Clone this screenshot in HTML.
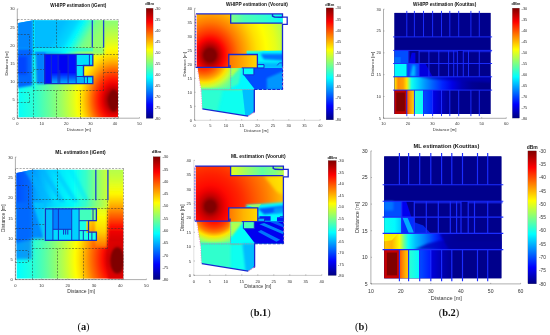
<!DOCTYPE html>
<html><head><meta charset="utf-8"><title>figure</title>
<style>html,body{margin:0;padding:0;background:#fff}svg{display:block;font-family:"Liberation Sans",sans-serif}</style>
</head><body>
<svg width="550" height="335" viewBox="0 0 550 335">
<defs>
<clipPath id="cp1"><polygon points="18.3,117.5 118,117.5 118,20.2 33.2,20.2 18.3,23.1"/></clipPath>
<radialGradient id="rg2" gradientUnits="userSpaceOnUse" cx="0" cy="0" r="1" gradientTransform="translate(113.3 100) scale(146.6 207.7)"><stop offset="0%" stop-color="#800000"/><stop offset="2.5%" stop-color="#800000"/><stop offset="5%" stop-color="#b60000"/><stop offset="7.5%" stop-color="#e90000"/><stop offset="10%" stop-color="#ff1600"/><stop offset="12.5%" stop-color="#ff3f00"/><stop offset="15%" stop-color="#ff6d00"/><stop offset="17.5%" stop-color="#ff9e00"/><stop offset="20%" stop-color="#ffc900"/><stop offset="22.5%" stop-color="#ffee00"/><stop offset="25%" stop-color="#f7ff08"/><stop offset="27.5%" stop-color="#deff21"/><stop offset="30%" stop-color="#c9ff36"/><stop offset="32.5%" stop-color="#b5ff4a"/><stop offset="35%" stop-color="#a1ff5e"/><stop offset="37.5%" stop-color="#8fff70"/><stop offset="40%" stop-color="#80ff80"/><stop offset="42.5%" stop-color="#70ff8f"/><stop offset="45%" stop-color="#61ff9e"/><stop offset="47.5%" stop-color="#52ffad"/><stop offset="50%" stop-color="#42ffbd"/><stop offset="52.5%" stop-color="#33ffcc"/><stop offset="55%" stop-color="#28ffd7"/><stop offset="57.5%" stop-color="#20ffdf"/><stop offset="60%" stop-color="#17ffe8"/><stop offset="62.5%" stop-color="#0efff1"/><stop offset="65%" stop-color="#06fff9"/><stop offset="67.5%" stop-color="#00feff"/><stop offset="70%" stop-color="#00faff"/><stop offset="72.5%" stop-color="#00f7ff"/><stop offset="75%" stop-color="#00f4ff"/><stop offset="77.5%" stop-color="#00f0ff"/><stop offset="80%" stop-color="#00edff"/><stop offset="82.5%" stop-color="#00e9ff"/><stop offset="85%" stop-color="#00e6ff"/><stop offset="87.5%" stop-color="#00e2ff"/><stop offset="90%" stop-color="#00dfff"/><stop offset="92.5%" stop-color="#00dbff"/><stop offset="95%" stop-color="#00d8ff"/><stop offset="97.5%" stop-color="#00d5ff"/><stop offset="100%" stop-color="#00d1ff"/></radialGradient>
<filter id="b0_9" x="-50%" y="-50%" width="200%" height="200%"><feGaussianBlur stdDeviation="0.9"/></filter>
<linearGradient id="lg3" gradientUnits="userSpaceOnUse" x1="68.1" y1="13.7" x2="100.7" y2="33.1"><stop offset="0%" stop-color="#00bdff"/><stop offset="30%" stop-color="#00d6ff"/><stop offset="45%" stop-color="#00faff"/><stop offset="60%" stop-color="#38ffc7"/><stop offset="75%" stop-color="#75ff8a"/><stop offset="100%" stop-color="#94ff6b"/></linearGradient>
<filter id="b1_2" x="-50%" y="-50%" width="200%" height="200%"><feGaussianBlur stdDeviation="1.2"/></filter>
<filter id="b1_6" x="-50%" y="-50%" width="200%" height="200%"><feGaussianBlur stdDeviation="1.6"/></filter>
<filter id="b1_3" x="-50%" y="-50%" width="200%" height="200%"><feGaussianBlur stdDeviation="1.3"/></filter>
<filter id="b1_5" x="-50%" y="-50%" width="200%" height="200%"><feGaussianBlur stdDeviation="1.5"/></filter>
<filter id="b0_6" x="-50%" y="-50%" width="200%" height="200%"><feGaussianBlur stdDeviation="0.6"/></filter>
<filter id="b0_5" x="-50%" y="-50%" width="200%" height="200%"><feGaussianBlur stdDeviation="0.5"/></filter>
<linearGradient id="lg4" gradientUnits="userSpaceOnUse" x1="17.3" y1="72.7" x2="17.3" y2="83.6"><stop offset="0%" stop-color="#000fff"/><stop offset="100%" stop-color="#00b2ff"/></linearGradient>
<filter id="b0_3" x="-50%" y="-50%" width="200%" height="200%"><feGaussianBlur stdDeviation="0.3"/></filter>
<clipPath id="cp5"><polygon points="16.4,278.8 123.3,278.8 123.3,169.7 32.4,169.7 16.4,172.9"/></clipPath>
<radialGradient id="rg6" gradientUnits="userSpaceOnUse" cx="0" cy="0" r="1" gradientTransform="translate(118.1 259.2) scale(157.2 245.2)"><stop offset="0%" stop-color="#800000"/><stop offset="2.5%" stop-color="#800000"/><stop offset="5%" stop-color="#a80000"/><stop offset="7.5%" stop-color="#dd0000"/><stop offset="10%" stop-color="#ff0f00"/><stop offset="12.5%" stop-color="#ff3100"/><stop offset="15%" stop-color="#ff5300"/><stop offset="17.5%" stop-color="#ff7500"/><stop offset="20%" stop-color="#ff9b00"/><stop offset="22.5%" stop-color="#ffc000"/><stop offset="25%" stop-color="#ffe500"/><stop offset="27.5%" stop-color="#ffff00"/><stop offset="30%" stop-color="#e6ff19"/><stop offset="32.5%" stop-color="#cdff32"/><stop offset="35%" stop-color="#b6ff49"/><stop offset="37.5%" stop-color="#a2ff5e"/><stop offset="40%" stop-color="#8dff72"/><stop offset="42.5%" stop-color="#79ff86"/><stop offset="45%" stop-color="#64ff9b"/><stop offset="47.5%" stop-color="#52ffad"/><stop offset="50%" stop-color="#42ffbd"/><stop offset="52.5%" stop-color="#33ffcc"/><stop offset="55%" stop-color="#24ffdb"/><stop offset="57.5%" stop-color="#19ffe6"/><stop offset="60%" stop-color="#0ffff0"/><stop offset="62.5%" stop-color="#05fffa"/><stop offset="65%" stop-color="#00faff"/><stop offset="67.5%" stop-color="#00f7ff"/><stop offset="70%" stop-color="#00f4ff"/><stop offset="72.5%" stop-color="#00f1ff"/><stop offset="75%" stop-color="#00eeff"/><stop offset="77.5%" stop-color="#00ebff"/><stop offset="80%" stop-color="#00e8ff"/><stop offset="82.5%" stop-color="#00e5ff"/><stop offset="85%" stop-color="#00e3ff"/><stop offset="87.5%" stop-color="#00e0ff"/><stop offset="90%" stop-color="#00ddff"/><stop offset="92.5%" stop-color="#00daff"/><stop offset="95%" stop-color="#00d7ff"/><stop offset="97.5%" stop-color="#00d4ff"/><stop offset="100%" stop-color="#00d1ff"/></radialGradient>
<linearGradient id="lg7" gradientUnits="userSpaceOnUse" x1="15.4" y1="242.8" x2="15.4" y2="169.3"><stop offset="0%" stop-color="#d10000"/><stop offset="11%" stop-color="#e50000"/><stop offset="22%" stop-color="#ff0f00"/><stop offset="33%" stop-color="#ff4c00"/><stop offset="44%" stop-color="#ff8a00"/><stop offset="56%" stop-color="#ffc700"/><stop offset="67%" stop-color="#fffa00"/><stop offset="78%" stop-color="#e5ff1a"/><stop offset="89%" stop-color="#c7ff38"/><stop offset="100%" stop-color="#b3ff4c"/></linearGradient>
<filter id="b1_0" x="-50%" y="-50%" width="200%" height="200%"><feGaussianBlur stdDeviation="1.0"/></filter>
<linearGradient id="lg8" gradientUnits="userSpaceOnUse" x1="15.4" y1="199.9" x2="15.4" y2="248.9"><stop offset="0%" stop-color="#c7ff38"/><stop offset="35%" stop-color="#faff05"/><stop offset="65%" stop-color="#ffd100"/><stop offset="85%" stop-color="#ff9400"/><stop offset="100%" stop-color="#ff6100"/></linearGradient>
<filter id="b1_1" x="-50%" y="-50%" width="200%" height="200%"><feGaussianBlur stdDeviation="1.1"/></filter>
<linearGradient id="lg9" gradientUnits="userSpaceOnUse" x1="15.4" y1="279.6" x2="109.7" y2="279.6"><stop offset="0%" stop-color="#004dff"/><stop offset="20%" stop-color="#009eff"/><stop offset="42%" stop-color="#00e0ff"/><stop offset="62%" stop-color="#05fffa"/><stop offset="75%" stop-color="#38ffc7"/><stop offset="85%" stop-color="#80ff80"/><stop offset="95%" stop-color="#bdff42"/><stop offset="100%" stop-color="#d1ff2e"/></linearGradient>
<filter id="b1_8" x="-50%" y="-50%" width="200%" height="200%"><feGaussianBlur stdDeviation="1.8"/></filter>
<filter id="b1_4" x="-50%" y="-50%" width="200%" height="200%"><feGaussianBlur stdDeviation="1.4"/></filter>
<filter id="b0_8" x="-50%" y="-50%" width="200%" height="200%"><feGaussianBlur stdDeviation="0.8"/></filter>
<filter id="b0_4" x="-50%" y="-50%" width="200%" height="200%"><feGaussianBlur stdDeviation="0.4"/></filter>
<clipPath id="cp10"><polygon points="196.5,13.9 282.8,13.9 282.8,89.5 254.3,89.5 254.3,111.9 248,116.1 202.4,108.8 201.5,90.9 199.6,80 197.7,67.4 196.5,67.4"/></clipPath>
<radialGradient id="rg11" gradientUnits="userSpaceOnUse" cx="0" cy="0" r="1" gradientTransform="translate(210 55.1) scale(188.4 218.4)"><stop offset="0%" stop-color="#800000"/><stop offset="2.5%" stop-color="#800000"/><stop offset="5%" stop-color="#c30000"/><stop offset="7.5%" stop-color="#ff0200"/><stop offset="10%" stop-color="#ff2f00"/><stop offset="12.5%" stop-color="#ff5400"/><stop offset="15%" stop-color="#ff7800"/><stop offset="17.5%" stop-color="#ff9500"/><stop offset="20%" stop-color="#ffb000"/><stop offset="22.5%" stop-color="#ffcb00"/><stop offset="25%" stop-color="#ffe100"/><stop offset="27.5%" stop-color="#fff000"/><stop offset="30%" stop-color="#ffff00"/><stop offset="32.5%" stop-color="#f2ff0d"/><stop offset="35%" stop-color="#e5ff1a"/><stop offset="37.5%" stop-color="#cdff32"/><stop offset="40%" stop-color="#b4ff4b"/><stop offset="42.5%" stop-color="#9aff65"/><stop offset="45%" stop-color="#80ff80"/><stop offset="47.5%" stop-color="#7bff84"/><stop offset="50%" stop-color="#76ff89"/><stop offset="52.5%" stop-color="#72ff8d"/><stop offset="55%" stop-color="#6dff92"/><stop offset="57.5%" stop-color="#68ff97"/><stop offset="60%" stop-color="#64ff9b"/><stop offset="62.5%" stop-color="#5fffa0"/><stop offset="65%" stop-color="#5affa5"/><stop offset="67.5%" stop-color="#56ffa9"/><stop offset="70%" stop-color="#51ffae"/><stop offset="72.5%" stop-color="#4dffb2"/><stop offset="75%" stop-color="#48ffb7"/><stop offset="77.5%" stop-color="#43ffbc"/><stop offset="80%" stop-color="#3fffc0"/><stop offset="82.5%" stop-color="#3affc5"/><stop offset="85%" stop-color="#35ffca"/><stop offset="87.5%" stop-color="#31ffce"/><stop offset="90%" stop-color="#2cffd3"/><stop offset="92.5%" stop-color="#27ffd8"/><stop offset="95%" stop-color="#23ffdc"/><stop offset="97.5%" stop-color="#1effe1"/><stop offset="100%" stop-color="#1affe5"/></radialGradient>
<clipPath id="cp12"><polygon points="194.6,67.4 230.4,67.4 230.4,89.5 194.6,89.5"/></clipPath>
<radialGradient id="rg13" gradientUnits="userSpaceOnUse" cx="0" cy="0" r="1" gradientTransform="translate(204 61.5) scale(188.4 168)"><stop offset="0%" stop-color="#ff0f00"/><stop offset="2.5%" stop-color="#ff2400"/><stop offset="5%" stop-color="#ff3800"/><stop offset="7.5%" stop-color="#ff6600"/><stop offset="10%" stop-color="#ff9e00"/><stop offset="12.5%" stop-color="#ffe200"/><stop offset="15%" stop-color="#c7ff38"/><stop offset="17.5%" stop-color="#80ff80"/><stop offset="20%" stop-color="#57ffa8"/><stop offset="22.5%" stop-color="#4fffb0"/><stop offset="25%" stop-color="#47ffb8"/><stop offset="27.5%" stop-color="#40ffbf"/><stop offset="30%" stop-color="#38ffc7"/><stop offset="32.5%" stop-color="#30ffcf"/><stop offset="35%" stop-color="#2effd1"/><stop offset="37.5%" stop-color="#2effd1"/><stop offset="40%" stop-color="#2effd1"/><stop offset="42.5%" stop-color="#2effd1"/><stop offset="45%" stop-color="#2effd1"/><stop offset="47.5%" stop-color="#2effd1"/><stop offset="50%" stop-color="#2effd1"/><stop offset="52.5%" stop-color="#2effd1"/><stop offset="55%" stop-color="#2effd1"/><stop offset="57.5%" stop-color="#2effd1"/><stop offset="60%" stop-color="#2effd1"/><stop offset="62.5%" stop-color="#2effd1"/><stop offset="65%" stop-color="#2effd1"/><stop offset="67.5%" stop-color="#2effd1"/><stop offset="70%" stop-color="#2effd1"/><stop offset="72.5%" stop-color="#2effd1"/><stop offset="75%" stop-color="#2effd1"/><stop offset="77.5%" stop-color="#2effd1"/><stop offset="80%" stop-color="#2effd1"/><stop offset="82.5%" stop-color="#2effd1"/><stop offset="85%" stop-color="#2effd1"/><stop offset="87.5%" stop-color="#2effd1"/><stop offset="90%" stop-color="#2effd1"/><stop offset="92.5%" stop-color="#2effd1"/><stop offset="95%" stop-color="#2effd1"/><stop offset="97.5%" stop-color="#2effd1"/><stop offset="100%" stop-color="#2effd1"/></radialGradient>
<linearGradient id="lg14" gradientUnits="userSpaceOnUse" x1="230.7" y1="120.3" x2="282.5" y2="120.3"><stop offset="0%" stop-color="#80ff80"/><stop offset="25%" stop-color="#4dffb2"/><stop offset="70%" stop-color="#2effd1"/><stop offset="100%" stop-color="#05fffa"/></linearGradient>
<filter id="b0_7" x="-50%" y="-50%" width="200%" height="200%"><feGaussianBlur stdDeviation="0.7"/></filter>
<linearGradient id="lg15" gradientUnits="userSpaceOnUse" x1="228.8" y1="120.3" x2="257.4" y2="120.3"><stop offset="0%" stop-color="#ff7500"/><stop offset="50%" stop-color="#ffa800"/><stop offset="100%" stop-color="#ffdb00"/></linearGradient>
<clipPath id="cp16"><polygon points="195.7,166.1 283.7,166.1 283.7,243.8 254.6,243.8 254.6,266.8 248.2,271.1 201.8,263.6 200.8,245.2 198.9,234 197,221.1 195.7,221.1"/></clipPath>
<radialGradient id="rg17" gradientUnits="userSpaceOnUse" cx="0" cy="0" r="1" gradientTransform="translate(210.3 206.4) scale(192 215.6)"><stop offset="0%" stop-color="#800000"/><stop offset="2.5%" stop-color="#890000"/><stop offset="5%" stop-color="#c60000"/><stop offset="7.5%" stop-color="#ee0000"/><stop offset="10%" stop-color="#ff0a00"/><stop offset="12.5%" stop-color="#ff1600"/><stop offset="15%" stop-color="#ff2100"/><stop offset="17.5%" stop-color="#ff2f00"/><stop offset="20%" stop-color="#ff4000"/><stop offset="22.5%" stop-color="#ff5100"/><stop offset="25%" stop-color="#ff6100"/><stop offset="27.5%" stop-color="#ff7000"/><stop offset="30%" stop-color="#ff8000"/><stop offset="32.5%" stop-color="#ff9300"/><stop offset="35%" stop-color="#ffa600"/><stop offset="37.5%" stop-color="#ffb900"/><stop offset="40%" stop-color="#ffce00"/><stop offset="42.5%" stop-color="#ffe200"/><stop offset="45%" stop-color="#fff700"/><stop offset="47.5%" stop-color="#f8ff07"/><stop offset="50%" stop-color="#f2ff0d"/><stop offset="52.5%" stop-color="#edff12"/><stop offset="55%" stop-color="#e7ff18"/><stop offset="57.5%" stop-color="#e1ff1e"/><stop offset="60%" stop-color="#dbff24"/><stop offset="62.5%" stop-color="#d6ff29"/><stop offset="65%" stop-color="#d0ff2f"/><stop offset="67.5%" stop-color="#caff35"/><stop offset="70%" stop-color="#c4ff3b"/><stop offset="72.5%" stop-color="#bfff40"/><stop offset="75%" stop-color="#b9ff46"/><stop offset="77.5%" stop-color="#b3ff4c"/><stop offset="80%" stop-color="#adff52"/><stop offset="82.5%" stop-color="#a8ff57"/><stop offset="85%" stop-color="#a2ff5d"/><stop offset="87.5%" stop-color="#9cff63"/><stop offset="90%" stop-color="#96ff69"/><stop offset="92.5%" stop-color="#91ff6e"/><stop offset="95%" stop-color="#8bff74"/><stop offset="97.5%" stop-color="#85ff7a"/><stop offset="100%" stop-color="#80ff80"/></radialGradient>
<clipPath id="cp18"><polygon points="193.8,221.1 230.3,221.1 230.3,243.8 193.8,243.8"/></clipPath>
<radialGradient id="rg19" gradientUnits="userSpaceOnUse" cx="0" cy="0" r="1" gradientTransform="translate(214 215) scale(192 172.5)"><stop offset="0%" stop-color="#e60000"/><stop offset="2.5%" stop-color="#fd0000"/><stop offset="5%" stop-color="#ff1900"/><stop offset="7.5%" stop-color="#ff4200"/><stop offset="10%" stop-color="#ff8000"/><stop offset="12.5%" stop-color="#ffe500"/><stop offset="15%" stop-color="#b3ff4c"/><stop offset="17.5%" stop-color="#6bff94"/><stop offset="20%" stop-color="#52ffad"/><stop offset="22.5%" stop-color="#4bffb4"/><stop offset="25%" stop-color="#45ffba"/><stop offset="27.5%" stop-color="#3effc1"/><stop offset="30%" stop-color="#37ffc8"/><stop offset="32.5%" stop-color="#30ffcf"/><stop offset="35%" stop-color="#2effd1"/><stop offset="37.5%" stop-color="#2effd1"/><stop offset="40%" stop-color="#2effd1"/><stop offset="42.5%" stop-color="#2effd1"/><stop offset="45%" stop-color="#2effd1"/><stop offset="47.5%" stop-color="#2effd1"/><stop offset="50%" stop-color="#2effd1"/><stop offset="52.5%" stop-color="#2effd1"/><stop offset="55%" stop-color="#2effd1"/><stop offset="57.5%" stop-color="#2effd1"/><stop offset="60%" stop-color="#2effd1"/><stop offset="62.5%" stop-color="#2effd1"/><stop offset="65%" stop-color="#2effd1"/><stop offset="67.5%" stop-color="#2effd1"/><stop offset="70%" stop-color="#2effd1"/><stop offset="72.5%" stop-color="#2effd1"/><stop offset="75%" stop-color="#2effd1"/><stop offset="77.5%" stop-color="#2effd1"/><stop offset="80%" stop-color="#2effd1"/><stop offset="82.5%" stop-color="#2effd1"/><stop offset="85%" stop-color="#2effd1"/><stop offset="87.5%" stop-color="#2effd1"/><stop offset="90%" stop-color="#2effd1"/><stop offset="92.5%" stop-color="#2effd1"/><stop offset="95%" stop-color="#2effd1"/><stop offset="97.5%" stop-color="#2effd1"/><stop offset="100%" stop-color="#2effd1"/></radialGradient>
<linearGradient id="lg20" gradientUnits="userSpaceOnUse" x1="230.6" y1="275.4" x2="283.4" y2="275.4"><stop offset="0%" stop-color="#e5ff1a"/><stop offset="30%" stop-color="#9eff61"/><stop offset="60%" stop-color="#61ff9e"/><stop offset="85%" stop-color="#80ff80"/><stop offset="100%" stop-color="#b3ff4c"/></linearGradient>
<linearGradient id="lg21" gradientUnits="userSpaceOnUse" x1="228.7" y1="275.4" x2="257.8" y2="275.4"><stop offset="0%" stop-color="#ff7500"/><stop offset="50%" stop-color="#ffb300"/><stop offset="100%" stop-color="#ffdb00"/></linearGradient>
<clipPath id="cp22"><polygon points="394.3,113.9 490.7,113.9 490.7,12.7 394.3,12.7"/></clipPath>
<linearGradient id="lg23" gradientUnits="userSpaceOnUse" x1="394.3" y1="140.1" x2="481.7" y2="140.1"><stop offset="0%" stop-color="#fff000"/><stop offset="4.5%" stop-color="#ff8a00"/><stop offset="10.1%" stop-color="#ff9e00"/><stop offset="14.3%" stop-color="#ffe500"/><stop offset="17.1%" stop-color="#80ff80"/><stop offset="19.9%" stop-color="#0ffff0"/><stop offset="27%" stop-color="#00d1ff"/><stop offset="35.4%" stop-color="#0094ff"/><stop offset="43.8%" stop-color="#0061ff"/><stop offset="55.1%" stop-color="#0024ff"/><stop offset="66.3%" stop-color="#0000e6"/><stop offset="77.5%" stop-color="#0000b2"/><stop offset="88.8%" stop-color="#000094"/><stop offset="100%" stop-color="#00008a"/></linearGradient>
<linearGradient id="lg24" gradientUnits="userSpaceOnUse" x1="406.8" y1="140.1" x2="414.2" y2="140.1"><stop offset="0%" stop-color="#ff4c00"/><stop offset="50%" stop-color="#ff9e00"/><stop offset="100%" stop-color="#ffdb00"/></linearGradient>
<linearGradient id="lg25" gradientUnits="userSpaceOnUse" x1="414.2" y1="140.1" x2="423.5" y2="140.1"><stop offset="0%" stop-color="#2effd1"/><stop offset="100%" stop-color="#00faff"/></linearGradient>
<linearGradient id="lg26" gradientUnits="userSpaceOnUse" x1="423.5" y1="140.1" x2="449.8" y2="140.1"><stop offset="0%" stop-color="#004dff"/><stop offset="34%" stop-color="#0024ff"/><stop offset="36%" stop-color="#0000e6"/><stop offset="68%" stop-color="#0000bd"/><stop offset="100%" stop-color="#000094"/></linearGradient>
<clipPath id="cp27"><polygon points="384.1,278.6 501.6,278.6 501.6,156.2 384.1,156.2"/></clipPath>
<linearGradient id="lg28" gradientUnits="userSpaceOnUse" x1="384.1" y1="310.5" x2="460.8" y2="310.5"><stop offset="0%" stop-color="#ffc700"/><stop offset="10%" stop-color="#ffb300"/><stop offset="20%" stop-color="#faff05"/><stop offset="26%" stop-color="#6bff94"/><stop offset="31.6%" stop-color="#05fffa"/><stop offset="41%" stop-color="#00bdff"/><stop offset="53%" stop-color="#0080ff"/><stop offset="65%" stop-color="#0038ff"/><stop offset="77%" stop-color="#0000e6"/><stop offset="92%" stop-color="#0000a8"/><stop offset="100%" stop-color="#000094"/></linearGradient>
<linearGradient id="lg29" gradientUnits="userSpaceOnUse" x1="399.4" y1="310.5" x2="408.6" y2="310.5"><stop offset="0%" stop-color="#ff4c00"/><stop offset="30%" stop-color="#ff8000"/><stop offset="70%" stop-color="#ffb300"/><stop offset="100%" stop-color="#ffc700"/></linearGradient>
<linearGradient id="lg30" gradientUnits="userSpaceOnUse" x1="408.6" y1="310.5" x2="419.7" y2="310.5"><stop offset="0%" stop-color="#2effd1"/><stop offset="100%" stop-color="#00faff"/></linearGradient>
<linearGradient id="lg31" gradientUnits="userSpaceOnUse" x1="419.7" y1="310.5" x2="451.8" y2="310.5"><stop offset="0%" stop-color="#004dff"/><stop offset="34%" stop-color="#001aff"/><stop offset="36%" stop-color="#0000db"/><stop offset="68%" stop-color="#0000b2"/><stop offset="100%" stop-color="#000094"/></linearGradient>
<linearGradient id="lg32" gradientUnits="userSpaceOnUse" x1="384.1" y1="310.5" x2="401.7" y2="310.5"><stop offset="0%" stop-color="#0ffff0"/><stop offset="60%" stop-color="#00faff"/><stop offset="100%" stop-color="#00c7ff"/></linearGradient>
<linearGradient id="cb33" x1="0" y1="0" x2="0" y2="1"><stop offset="0%" stop-color="#800000"/><stop offset="6.2%" stop-color="#bf0000"/><stop offset="12.5%" stop-color="#ff0000"/><stop offset="18.8%" stop-color="#ff4000"/><stop offset="25%" stop-color="#ff8000"/><stop offset="31.2%" stop-color="#ffbf00"/><stop offset="37.5%" stop-color="#ffff00"/><stop offset="43.8%" stop-color="#bfff40"/><stop offset="50%" stop-color="#80ff80"/><stop offset="56.2%" stop-color="#40ffbf"/><stop offset="62.5%" stop-color="#00ffff"/><stop offset="68.8%" stop-color="#00bfff"/><stop offset="75%" stop-color="#0080ff"/><stop offset="81.2%" stop-color="#0040ff"/><stop offset="87.5%" stop-color="#0000ff"/><stop offset="93.8%" stop-color="#0000bf"/><stop offset="100%" stop-color="#000080"/></linearGradient>
<linearGradient id="cb34" x1="0" y1="0" x2="0" y2="1"><stop offset="0%" stop-color="#800000"/><stop offset="6.2%" stop-color="#bf0000"/><stop offset="12.5%" stop-color="#ff0000"/><stop offset="18.8%" stop-color="#ff4000"/><stop offset="25%" stop-color="#ff8000"/><stop offset="31.2%" stop-color="#ffbf00"/><stop offset="37.5%" stop-color="#ffff00"/><stop offset="43.8%" stop-color="#bfff40"/><stop offset="50%" stop-color="#80ff80"/><stop offset="56.2%" stop-color="#40ffbf"/><stop offset="62.5%" stop-color="#00ffff"/><stop offset="68.8%" stop-color="#00bfff"/><stop offset="75%" stop-color="#0080ff"/><stop offset="81.2%" stop-color="#0040ff"/><stop offset="87.5%" stop-color="#0000ff"/><stop offset="93.8%" stop-color="#0000bf"/><stop offset="100%" stop-color="#000080"/></linearGradient>
<linearGradient id="cb35" x1="0" y1="0" x2="0" y2="1"><stop offset="0%" stop-color="#800000"/><stop offset="6.2%" stop-color="#bf0000"/><stop offset="12.5%" stop-color="#ff0000"/><stop offset="18.8%" stop-color="#ff4000"/><stop offset="25%" stop-color="#ff8000"/><stop offset="31.2%" stop-color="#ffbf00"/><stop offset="37.5%" stop-color="#ffff00"/><stop offset="43.8%" stop-color="#bfff40"/><stop offset="50%" stop-color="#80ff80"/><stop offset="56.2%" stop-color="#40ffbf"/><stop offset="62.5%" stop-color="#00ffff"/><stop offset="68.8%" stop-color="#00bfff"/><stop offset="75%" stop-color="#0080ff"/><stop offset="81.2%" stop-color="#0040ff"/><stop offset="87.5%" stop-color="#0000ff"/><stop offset="93.8%" stop-color="#0000bf"/><stop offset="100%" stop-color="#000080"/></linearGradient>
<linearGradient id="cb36" x1="0" y1="0" x2="0" y2="1"><stop offset="0%" stop-color="#800000"/><stop offset="6.2%" stop-color="#bf0000"/><stop offset="12.5%" stop-color="#ff0000"/><stop offset="18.8%" stop-color="#ff4000"/><stop offset="25%" stop-color="#ff8000"/><stop offset="31.2%" stop-color="#ffbf00"/><stop offset="37.5%" stop-color="#ffff00"/><stop offset="43.8%" stop-color="#bfff40"/><stop offset="50%" stop-color="#80ff80"/><stop offset="56.2%" stop-color="#40ffbf"/><stop offset="62.5%" stop-color="#00ffff"/><stop offset="68.8%" stop-color="#00bfff"/><stop offset="75%" stop-color="#0080ff"/><stop offset="81.2%" stop-color="#0040ff"/><stop offset="87.5%" stop-color="#0000ff"/><stop offset="93.8%" stop-color="#0000bf"/><stop offset="100%" stop-color="#000080"/></linearGradient>
<linearGradient id="cb37" x1="0" y1="0" x2="0" y2="1"><stop offset="0%" stop-color="#800000"/><stop offset="6.2%" stop-color="#bf0000"/><stop offset="12.5%" stop-color="#ff0000"/><stop offset="18.8%" stop-color="#ff4000"/><stop offset="25%" stop-color="#ff8000"/><stop offset="31.2%" stop-color="#ffbf00"/><stop offset="37.5%" stop-color="#ffff00"/><stop offset="43.8%" stop-color="#bfff40"/><stop offset="50%" stop-color="#80ff80"/><stop offset="56.2%" stop-color="#40ffbf"/><stop offset="62.5%" stop-color="#00ffff"/><stop offset="68.8%" stop-color="#00bfff"/><stop offset="75%" stop-color="#0080ff"/><stop offset="81.2%" stop-color="#0040ff"/><stop offset="87.5%" stop-color="#0000ff"/><stop offset="93.8%" stop-color="#0000bf"/><stop offset="100%" stop-color="#000080"/></linearGradient>
<linearGradient id="cb38" x1="0" y1="0" x2="0" y2="1"><stop offset="0%" stop-color="#800000"/><stop offset="6.2%" stop-color="#bf0000"/><stop offset="12.5%" stop-color="#ff0000"/><stop offset="18.8%" stop-color="#ff4000"/><stop offset="25%" stop-color="#ff8000"/><stop offset="31.2%" stop-color="#ffbf00"/><stop offset="37.5%" stop-color="#ffff00"/><stop offset="43.8%" stop-color="#bfff40"/><stop offset="50%" stop-color="#80ff80"/><stop offset="56.2%" stop-color="#40ffbf"/><stop offset="62.5%" stop-color="#00ffff"/><stop offset="68.8%" stop-color="#00bfff"/><stop offset="75%" stop-color="#0080ff"/><stop offset="81.2%" stop-color="#0040ff"/><stop offset="87.5%" stop-color="#0000ff"/><stop offset="93.8%" stop-color="#0000bf"/><stop offset="100%" stop-color="#000080"/></linearGradient>
</defs>
<rect width="550" height="335" fill="#fff"/>
<g clip-path="url(#cp1)">
<polygon points="18.3,117.5 118,117.5 118,20.2 33.2,20.2 18.3,23.1" fill="url(#rg2)"/>
<ellipse cx="113.6" cy="100.7" rx="4.6" ry="10.9" fill="#800000" filter="url(#b0_9)"/>
<polygon points="10,8.9 105.3,8.9 104.1,54.4 10,54.4" fill="url(#lg3)" filter="url(#b1_2)"/>
<polygon points="10,8.9 32.7,8.9 32.7,49 10,49" fill="#0080ff" opacity="0.9" filter="url(#b1_6)"/>
<polygon points="10,49 32.5,49 32.5,85.4 10,89.1" fill="#0066ff" filter="url(#b1_3)"/>
<polygon points="10,56.3 27.1,56.3 27.1,74.5 10,74.5" fill="#0038ff" opacity="0.7" filter="url(#b1_5)"/>
<polygon points="35.4,51.9 45.4,51.9 45.4,84 36.4,84" fill="#0080ff" filter="url(#b0_9)"/>
<polygon points="32.7,19.8 34.9,19.8 34.9,89.1 32.7,89.1" fill="#00faff" opacity="0.7" filter="url(#b0_6)"/>
<polygon points="33.2,47.9 93.1,47.9 93.1,51.5 33.2,51.5" fill="#0ffff0" opacity="0.55" filter="url(#b0_6)"/>
<polygon points="44.7,83.6 92.8,83.6 92.8,76.5 83.5,76.5 83.5,65.5 92.8,65.5 92.8,54.4 44.7,54.4" fill="#00e0ff" filter="url(#b0_5)"/>
<polygon points="44.7,83.6 76.2,83.6 76.2,54.4 44.7,54.4" fill="#000fff" filter="url(#b0_5)"/>
<polygon points="51.3,83.6 76.2,83.6 76.2,72.7 51.3,72.7" fill="url(#lg4)" filter="url(#b0_5)"/>
<polygon points="59.3,72.7 68.1,72.7 68.1,55.5 59.3,55.5" fill="#0000f0" opacity="0.8" filter="url(#b0_6)"/>
<polygon points="76.2,83.6 83.5,83.6 83.5,76.5 76.2,76.5" fill="#00b2ff" filter="url(#b0_3)"/>
</g>
<path d="M17.3 118.5L118.5 118.5M118.5 118.2L118.5 19.3M118.5 19.5L17.3 19.5M17.5 19.3L17.5 118.2" fill="none" stroke="#4a4a4a" stroke-width="0.45" stroke-dasharray="2 1.3"/>
<path d="M33.5 118.2L33.5 19.1M56.5 118.2L56.5 90.9M80.5 118.2L80.5 90.9M56.5 47.2L56.5 19.1M103.5 90.9L103.5 47.2M29.5 102.5L29.5 92.7M29.5 54.4L29.5 34.4M33.2 90.5L103.6 90.5M33.2 47.5L103.6 47.5M17.3 54.5L118.2 54.5M17.3 72.5L33.2 72.5M103.6 72.5L118.2 72.5M17.3 102.5L29.5 102.5M17.3 92.5L29.5 92.5M17.3 34.5L29.5 34.5M33.2 69.5L44.7 69.5M17.3 82.5L44.7 82.5" fill="none" stroke="#303030" stroke-width="0.5" stroke-dasharray="2 1.3"/>
<path d="M44.7 83.6L92.8 83.6L92.8 76.5L83.5 76.5L83.5 65.5L92.8 65.5L92.8 54.4L44.7 54.4Z" fill="none" stroke="#1430c4" stroke-width="1.35" stroke-linejoin="miter"/>
<path d="M51.3 83.6L51.3 54.4M58.1 83.6L58.1 54.4M68.1 83.6L68.1 54.4M76.2 83.6L76.2 54.4M89.4 65.5L89.4 54.4M76.2 65.5L83.5 65.5M76.2 76.5L83.5 76.5M84.3 83.6L84.3 76.5M87.4 83.6L87.4 76.5" fill="none" stroke="#1430c4" stroke-width="1.0"/>
<path d="M59.8 83.6L59.8 70.1" fill="none" stroke="#1430c4" stroke-width="0.9"/>
<path d="M92.3 20.2L92.3 47.5M103.6 20.2L103.6 47.5" fill="none" stroke="#1c40d0" stroke-width="1.3"/>
<g clip-path="url(#cp5)">
<polygon points="16.4,278.8 123.3,278.8 123.3,169.7 32.4,169.7 16.4,172.9" fill="url(#rg6)"/>
<polygon points="108.7,242.8 125.4,242.8 125.4,165.2 108.7,165.2" fill="url(#lg7)" filter="url(#b1_0)"/>
<polygon points="94.8,247.7 107.1,247.7 107.1,199.9 94.8,199.9" fill="url(#lg8)" filter="url(#b1_1)"/>
<polygon points="108.1,279.6 125.4,279.6 125.4,240.8 108.1,240.8" fill="#db0000" opacity="0.8" filter="url(#b0_9)"/>
<ellipse cx="117.3" cy="260.4" rx="7.1" ry="13.1" fill="#800000" filter="url(#b1_2)"/>
<polygon points="7.5,157 108.4,157 108.4,208.1 7.5,208.1" fill="url(#lg9)" filter="url(#b1_3)"/>
<polygon points="7.5,201.9 44.2,201.9 44.2,238.7 33.7,238.7 7.5,244.9" fill="#008aff" filter="url(#b1_8)"/>
<polygon points="32.4,201.9 45,201.9 45,242.8" fill="#00d1ff" opacity="0.8" filter="url(#b1_0)"/>
<polygon points="7.5,165.2 31.6,165.2 31.6,259.2 7.5,259.2" fill="#004dff" opacity="0.55" filter="url(#b1_4)"/>
<polygon points="23.3,169.3 31.1,169.3 52.1,201.9 44.2,201.9" fill="#00b2ff" opacity="0.6" filter="url(#b0_9)"/>
<polygon points="39,169.3 44.2,169.3 65.2,201.9 59.9,201.9" fill="#00b2ff" opacity="0.6" filter="url(#b0_8)"/>
<polygon points="52.1,169.3 57.3,169.3 78.3,201.9 73,201.9" fill="#00c7ff" opacity="0.6" filter="url(#b0_8)"/>
<polygon points="67.8,169.3 73,169.3 88.8,199.9 83.5,199.9" fill="#00e5ff" opacity="0.5" filter="url(#b0_8)"/>
<polygon points="44.7,240.8 96.4,240.8 96.4,232.8 86.4,232.8 86.4,220.5 96.4,220.5 96.4,208.1 44.7,208.1" fill="#1affe5" filter="url(#b0_5)"/>
<polygon points="45.4,240.4 52.9,240.4 52.9,208.9 45.4,208.9" fill="#00bdff" filter="url(#b0_4)"/>
<polygon points="52.9,230.6 71.7,230.6 71.7,208.9 52.9,208.9" fill="#0080ff" filter="url(#b0_6)"/>
<polygon points="52.9,240.4 71.7,240.4 71.7,229.3 52.9,229.3" fill="#00dbff" filter="url(#b0_6)"/>
<polygon points="71.7,240.4 79.1,240.4 79.1,208.9 71.7,208.9" fill="#00d1ff" filter="url(#b0_5)"/>
<polygon points="79.1,220.7 96.4,220.7 96.4,208.9 79.1,208.9" fill="#42ffbd" filter="url(#b0_5)"/>
<polygon points="91.4,220.7 96.4,220.7 96.4,208.9 91.4,208.9" fill="#80ff80" filter="url(#b0_4)"/>
</g>
<path d="M15.4 279.5L123.9 279.5M123.5 279.6L123.5 168.6M123.9 168.5L15.4 168.5M15.5 168.6L15.5 279.6" fill="none" stroke="#4a4a4a" stroke-width="0.45" stroke-dasharray="2 1.3"/>
<path d="M32.5 279.6L32.5 168.4M57.5 279.6L57.5 248.9M83.5 279.6L83.5 248.9M57.5 199.9L57.5 168.4M107.5 248.9L107.5 199.9M28.5 262L28.5 251M28.5 208.1L28.5 185.6M32.4 248.5L107.9 248.5M32.4 199.5L107.9 199.5M15.4 208.5L123.6 208.5M15.4 228.5L32.4 228.5M107.9 228.5L123.6 228.5M15.4 262.5L28.5 262.5M15.4 250.5L28.5 250.5M15.4 185.5L28.5 185.5M32.4 224.5L44.7 224.5M15.4 239.5L44.7 239.5" fill="none" stroke="#303030" stroke-width="0.5" stroke-dasharray="2 1.3"/>
<path d="M45.4 240.4L96.4 240.4L96.4 232.2L88.5 232.2L88.5 220.7L96.4 220.7L96.4 208.9L45.4 208.9Z" fill="none" stroke="#1430c4" stroke-width="1.3" stroke-linejoin="miter"/>
<path d="M52.9 240.4L52.9 208.9M58.4 229.3L58.4 208.9M71.7 240.4L71.7 208.9M79.1 240.4L79.1 208.9M93 220.7L93 208.9M79.1 220.7L88.5 220.7M79.1 230.6L88.5 230.6M88.5 240.4L88.5 232.2M91.9 240.4L91.9 232.2M52.9 229.3L71.7 229.3M58.4 240.4L58.4 229.3M63.6 234.6L63.6 229.3M65.7 234.6L65.7 229.3M67.8 234.6L67.8 229.3M83.3 240.4L83.3 230.6" fill="none" stroke="#1430c4" stroke-width="1.0"/>
<path d="M95.8 169.7L95.8 200.3M107.9 169.7L107.9 200.3" fill="none" stroke="#1c40d0" stroke-width="1.3"/>
<g clip-path="url(#cp10)">
<polygon points="196.5,13.9 282.8,13.9 282.8,89.5 254.3,89.5 254.3,111.9 248,116.1 202.4,108.8 201.5,90.9 199.6,80 197.7,67.4 196.5,67.4" fill="url(#rg11)"/>
<ellipse cx="210" cy="55.3" rx="6.3" ry="6.3" fill="#800000" filter="url(#b1_0)"/>
<g clip-path="url(#cp12)"><rect x="191.5" y="65.7" width="60" height="40" fill="url(#rg13)"/></g>
<polygon points="230.7,23.1 291.9,23.1 291.9,11.1 230.7,11.1" fill="url(#lg14)"/>
<polygon points="246.7,51.1 285.7,50.6 285.7,69.9 257.4,69.9 257.4,65.7 246.7,65.7" fill="#00faff" filter="url(#b0_7)"/>
<polygon points="246.7,50.6 266.8,50.6 257.4,52.5 246.7,52.5" fill="#6bff94" opacity="0.7" filter="url(#b0_5)"/>
<polygon points="260.5,53.7 285.7,53.7 285.7,60.7 263.7,59.3" fill="#006bff" opacity="0.95" filter="url(#b1_0)"/>
<polygon points="257.4,62.6 285.7,62.6 285.7,68.5 257.4,68.5" fill="#00b2ff" opacity="0.9" filter="url(#b0_8)"/>
<polygon points="194.6,89.2 288.8,89.2 288.8,120.3 194.6,120.3" fill="#0ffff0" filter="url(#b0_9)"/>
<polygon points="194.6,89.5 222.9,89.5 216.6,114.7 194.6,114.7" fill="#38ffc7" opacity="0.75" filter="url(#b1_4)"/>
<polygon points="230.4,67.9 285.7,67.9 285.7,89.5 230.4,89.5" fill="#00faff" filter="url(#b0_5)"/>
<polygon points="230.4,67.9 241.7,67.9 238.6,83.9 230.4,88.1" fill="#4dffb2" opacity="0.8" filter="url(#b1_0)"/>
<polygon points="230.4,67.4 240.1,67.4 230.4,78.3" fill="#d1ff2e" opacity="0.8" filter="url(#b0_8)"/>
<polygon points="253.6,67.9 285.7,67.9 285.7,89.5 254.9,89.5 243.6,74.9 253.6,74.9" fill="#004dff" filter="url(#b0_7)"/>
<polygon points="266.8,78.3 285.7,69.9 285.7,89.5 266.8,89.5" fill="#00a8ff" opacity="0.8" filter="url(#b1_3)"/>
<polygon points="242.3,89.5 255.8,89.5 255.8,120.3 245.8,120.3" fill="#00bdff" filter="url(#b0_7)"/>
<polygon points="228.8,67.9 257.4,67.9 257.4,54.5 228.8,54.5" fill="url(#lg15)"/>
<polygon points="257.4,67.9 264,67.9 264,64.6 257.4,64.6" fill="#00faff"/>
<polygon points="243.3,74.8 253.9,74.8 253.9,68.2 243.3,68.2" fill="#05fffa"/>
</g>
<path d="M195.9 13.9L282.5 13.9L282.5 17.1L287.2 17.1L287.2 24.3L282.5 24.3L282.5 66.5" fill="none" stroke="#1826d2" stroke-width="1.3" stroke-linejoin="miter"/>
<path d="M254.3 88.9L254.3 111.9L253 112.7" fill="none" stroke="#1826d2" stroke-width="1.3" stroke-linejoin="miter"/>
<path d="M248 116.1L202.4 108.8" fill="none" stroke="#1826d2" stroke-width="1.3" stroke-linejoin="miter"/>
<path d="M195.7 14.5L195.7 67.1" fill="none" stroke="#e070d0" stroke-width="0.9" stroke-dasharray="1.5 1.5"/>
<path d="M195.7 14.5L195.7 67.1" fill="none" stroke="#1826d2" stroke-width="0.9" stroke-dasharray="1.5 1.5" stroke-dashoffset="1.5"/>
<path d="M230.7 13.9L230.7 23.1L282.5 23.1" fill="none" stroke="#1826d2" stroke-width="1.3" stroke-linejoin="miter"/>
<path d="M195.5 67.4L230.1 67.4L230.1 64.9" fill="none" stroke="#1826d2" stroke-width="1.3" stroke-linejoin="miter"/>
<path d="M241.7 67.9L264 67.9L264 64.6L257.4 64.6" fill="none" stroke="#1826d2" stroke-width="1.0" stroke-linejoin="miter"/>
<path d="M228.8 67.4L228.8 54.5L257.4 54.5L257.4 67.9" fill="none" stroke="#1826d2" stroke-width="1.3" stroke-linejoin="miter"/>
<path d="M243.3 68.2L243.3 74.8L253.9 74.8L253.9 68.2" fill="none" stroke="#1826d2" stroke-width="1.0" stroke-linejoin="miter"/>
<path d="M272.5 13.9L272.5 16.1L274.4 17L282.5 17.3" fill="none" stroke="#1826d2" stroke-width="1.4" stroke-linejoin="miter"/>
<path d="M282.5 62.9L279.4 62.9L277.2 65.4" fill="none" stroke="#1826d2" stroke-width="0.8" stroke-linejoin="miter"/>
<path d="M197.3 68.5L199.2 80M199.2 80L201 90.9M201 90.9L202 108.5M230.7 67.9L230.7 89.5M202.4 89.5L254.3 89.5M248.6 116.1L254.3 111.9" fill="none" stroke="#e060c0" stroke-width="0.5" stroke-dasharray="1.2 1.2"/>
<path d="M282.8 89.5L282.8 66.5M248 116.1L254.3 111.9" fill="none" stroke="#e060c0" stroke-width="0.9" stroke-dasharray="1.5 1.5"/>
<path d="M254.3 89.5L282.5 89.5" fill="none" stroke="#1826d2" stroke-width="1.1" stroke-dasharray="3.2 1.3"/>
<path d="M282.5 89.5L282.5 66.5" fill="none" stroke="#1826d2" stroke-width="1.1" stroke-dasharray="2.2 2.2"/>
<g clip-path="url(#cp16)">
<polygon points="195.7,166.1 283.7,166.1 283.7,243.8 254.6,243.8 254.6,266.8 248.2,271.1 201.8,263.6 200.8,245.2 198.9,234 197,221.1 195.7,221.1" fill="url(#rg17)"/>
<ellipse cx="210.3" cy="206.4" rx="5.4" ry="5.5" fill="#800000" filter="url(#b0_9)"/>
<g clip-path="url(#cp18)"><rect x="190.6" y="219.3" width="60" height="40" fill="url(#rg19)"/></g>
<polygon points="230.6,175.6 293,175.6 293,163.3 230.6,163.3" fill="url(#lg20)" filter="url(#b0_5)"/>
<polygon points="264.2,176.2 286.6,176.2 286.6,196.3 277,192" fill="#fffa00" opacity="0.6" filter="url(#b1_5)"/>
<polygon points="246,205 286.6,202.1 286.6,223.6 257.8,223.6 257.8,219.3 246,219.3" fill="#00faff" filter="url(#b0_8)"/>
<polygon points="246,204.7 261,204.1 257.8,208.7" fill="#b3ff4c" opacity="0.8" filter="url(#b0_7)"/>
<polygon points="257.8,208.4 286.6,205.5 286.6,211.6 264.2,214.4" fill="#004dff" opacity="0.95" filter="url(#b0_8)"/>
<polygon points="259.4,216.2 270.6,216.2 270.6,220.8 259.4,220.8" fill="#0000fa" opacity="0.9" filter="url(#b0_7)"/>
<polygon points="277,217.3 286.6,217.3 286.6,221.6 277,221.6" fill="#0000fa" opacity="0.9" filter="url(#b0_7)"/>
<polygon points="273.8,207.8 286.6,206.4 286.6,213.6 273.8,213.6" fill="#00b2ff" opacity="0.7" filter="url(#b0_8)"/>
<polygon points="193.8,243.5 289.8,243.5 289.8,275.4 193.8,275.4" fill="#0ffff0" filter="url(#b0_9)"/>
<polygon points="193.8,243.8 230.6,243.8 230.6,272.5 193.8,272.5" fill="#38ffc7" opacity="0.85" filter="url(#b1_2)"/>
<polygon points="230.3,221.6 286.6,221.6 286.6,243.8 230.3,243.8" fill="#05fffa" filter="url(#b0_5)"/>
<polygon points="230.3,221.6 243.4,221.6 230.3,238" fill="#d1ff2e" opacity="0.85" filter="url(#b0_9)"/>
<polygon points="254,221.6 286.6,221.6 286.6,243.8 255.2,243.8 243.7,228.8 254,228.8" fill="#0000f0" filter="url(#b0_6)"/>
<polygon points="259.4,224.2 264.2,223.1 286.6,232.8 286.6,235.7" fill="#00b2ff" opacity="0.75" filter="url(#b0_6)"/>
<polygon points="257.8,231.7 261,230 280.2,239.7 276.4,241.8" fill="#009eff" opacity="0.75" filter="url(#b0_6)"/>
<polygon points="269,221.6 277,221.6 286.6,226.5 286.6,228.8" fill="#0080ff" opacity="0.7" filter="url(#b0_6)"/>
<polygon points="242.4,243.8 256.2,243.8 256.2,275.4 246,275.4" fill="#00bdff" filter="url(#b0_8)"/>
<polygon points="228.7,221.6 257.8,221.6 257.8,207.8 228.7,207.8" fill="url(#lg21)"/>
<polygon points="257.8,221.6 264.5,221.6 264.5,218.2 257.8,218.2" fill="#00b2ff"/>
<polygon points="243.4,228.7 254.3,228.7 254.3,221.9 243.4,221.9" fill="#4dffb2"/>
</g>
<path d="M195.1 166.1L283.4 166.1L283.4 169.4L288.2 169.4L288.2 176.8L283.4 176.8L283.4 220.2" fill="none" stroke="#1826d2" stroke-width="1.3" stroke-linejoin="miter"/>
<path d="M254.6 243.2L254.6 266.8L253.3 267.6" fill="none" stroke="#1826d2" stroke-width="1.3" stroke-linejoin="miter"/>
<path d="M248.2 271.1L201.8 263.6" fill="none" stroke="#1826d2" stroke-width="1.3" stroke-linejoin="miter"/>
<path d="M194.9 166.7L194.9 220.8" fill="none" stroke="#e070d0" stroke-width="0.9" stroke-dasharray="1.5 1.5"/>
<path d="M194.9 166.7L194.9 220.8" fill="none" stroke="#1826d2" stroke-width="0.9" stroke-dasharray="1.5 1.5" stroke-dashoffset="1.5"/>
<path d="M230.6 166.1L230.6 175.6L283.4 175.6" fill="none" stroke="#1826d2" stroke-width="1.3" stroke-linejoin="miter"/>
<path d="M194.8 221.1L230 221.1L230 218.5" fill="none" stroke="#1826d2" stroke-width="1.3" stroke-linejoin="miter"/>
<path d="M241.8 221.6L264.5 221.6L264.5 218.2L257.8 218.2" fill="none" stroke="#1826d2" stroke-width="1.0" stroke-linejoin="miter"/>
<path d="M228.7 221.1L228.7 207.8L257.8 207.8L257.8 221.6" fill="none" stroke="#1826d2" stroke-width="1.3" stroke-linejoin="miter"/>
<path d="M243.4 221.9L243.4 228.7L254.3 228.7L254.3 221.9" fill="none" stroke="#1826d2" stroke-width="1.0" stroke-linejoin="miter"/>
<path d="M273.2 166.1L273.2 168.4L275.1 169.3L283.4 169.6" fill="none" stroke="#1826d2" stroke-width="1.4" stroke-linejoin="miter"/>
<path d="M283.4 216.5L280.2 216.5L278 219" fill="none" stroke="#1826d2" stroke-width="0.8" stroke-linejoin="miter"/>
<path d="M196.5 222.2L198.4 234M198.4 234L200.4 245.2M200.4 245.2L201.3 263.3M230.6 221.6L230.6 243.8M201.8 243.8L254.6 243.8M248.8 271.1L254.6 266.8" fill="none" stroke="#e060c0" stroke-width="0.5" stroke-dasharray="1.2 1.2"/>
<path d="M283.7 243.8L283.7 220.2M248.2 271.1L254.6 266.8" fill="none" stroke="#e060c0" stroke-width="0.9" stroke-dasharray="1.5 1.5"/>
<path d="M254.6 243.8L283.4 243.8" fill="none" stroke="#1826d2" stroke-width="1.1" stroke-dasharray="3.2 1.3"/>
<path d="M283.4 243.8L283.4 220.2" fill="none" stroke="#1826d2" stroke-width="1.1" stroke-dasharray="2.2 2.2"/>
<g clip-path="url(#cp22)">
<polygon points="394.3,113.9 490.7,113.9 490.7,12.7 394.3,12.7" fill="#000080"/>
<polygon points="394.3,113.9 490.7,113.9 490.7,12.7 394.3,12.7" fill="#00008c"/>
<polygon points="394.3,89.9 490.8,89.9 490.8,76.8 394.3,76.8" fill="url(#lg23)"/>
<polygon points="417.9,76.8 491.6,76.8 491.6,82.5 432.6,79" fill="#0000b2" opacity="0.8" filter="url(#b0_8)"/>
<polygon points="394.3,113.9 406.8,113.9 406.8,89.9 394.3,89.9" fill="#bd0000"/>
<polygon points="396.3,111.3 404.9,111.3 404.9,92.5 396.3,92.5" fill="#800000" filter="url(#b0_6)"/>
<polygon points="406.8,113.9 414.2,113.9 414.2,89.9 406.8,89.9" fill="url(#lg24)"/>
<polygon points="414.2,113.9 423.5,113.9 423.5,89.9 414.2,89.9" fill="url(#lg25)"/>
<polygon points="423.5,113.9 449.8,113.9 449.8,89.9 423.5,89.9" fill="url(#lg26)"/>
<polygon points="394.3,76.8 406.8,76.8 406.8,63.3 394.3,63.3" fill="#00faff"/>
<polygon points="406.8,76.8 419.1,76.8 419.1,63.3 406.8,63.3" fill="#004dff"/>
<polygon points="410,76.4 415.4,76.4 415.4,65.9 413,64.2" fill="#00c7ff" opacity="0.9" filter="url(#b0_9)"/>
<polygon points="419.1,76.8 432.6,76.8 425.3,63.3 419.1,63.3" fill="#0000e6" opacity="0.9" filter="url(#b0_6)"/>
<polygon points="394.3,63.3 408.1,63.3 408.1,50.6 394.3,50.6" fill="#004dff"/>
<polygon points="394.3,63.3 400.7,63.3 400.7,57.2 394.3,57.2" fill="#0075ff" opacity="0.8" filter="url(#b0_6)"/>
<polygon points="409.3,63.3 415.4,63.3 415.4,52.8 411.7,52.8" fill="#0000fa" opacity="0.8" filter="url(#b0_5)"/>
</g>
<path d="M393.1 36.9L492.1 36.9M393.1 50.4L492.1 50.4M393.1 63.5L492.1 63.5M393.1 76.8L492.1 76.8M393.1 90.1L492.1 90.1" fill="none" stroke="#1a2cff" stroke-width="0.95"/>
<path d="M406.8 10.9L406.8 36.9M414.4 10.9L414.4 36.9M423.5 10.9L423.5 36.9M432.6 10.9L432.6 36.9M441.5 10.9L441.5 36.9M449.8 10.9L449.8 36.9M458.7 10.9L458.7 36.9M470.9 10.9L470.9 36.9M479.3 10.9L479.3 36.9" fill="none" stroke="#1a2cff" stroke-width="0.95"/>
<path d="M406.8 90.1L406.8 116.1M414.4 90.1L414.4 116.1M423.5 90.1L423.5 116.1M432.6 90.1L432.6 116.1M441.5 90.1L441.5 116.1M449.8 90.1L449.8 116.1M458.7 90.1L458.7 116.1M470.9 90.1L470.9 116.1M479.3 90.1L479.3 116.1" fill="none" stroke="#1a2cff" stroke-width="0.95"/>
<path d="M408.8 50.4L408.8 76.8M419.1 50.4L419.1 76.8M428.9 50.4L428.9 76.8M438.8 50.4L438.8 76.8M448.6 50.4L448.6 76.8M453.7 50.4L453.7 76.8M457.4 50.4L457.4 76.8M463.3 50.4L463.3 76.8M468.5 50.4L468.5 76.8M479.3 50.4L479.3 76.8" fill="none" stroke="#1a2cff" stroke-width="0.95"/>
<path d="M419.1 51.7L457.4 51.7M463.3 51.7L491.6 51.7" fill="none" stroke="#1a2cff" stroke-width="0.76"/>
<g clip-path="url(#cp27)">
<polygon points="384.1,278.6 501.6,278.6 501.6,156.2 384.1,156.2" fill="#000080"/>
<polygon points="384.1,278.6 501.6,278.6 501.6,156.2 384.1,156.2" fill="#00008c"/>
<polygon points="384.1,249.6 501.8,249.6 501.8,233.4 384.1,233.4" fill="url(#lg28)"/>
<polygon points="384.1,233.4 397.9,233.4 391.9,240.3 384.1,241.3" fill="#faff05" opacity="0.8" filter="url(#b0_7)"/>
<polygon points="414.3,249.6 502.7,249.6 502.7,240.8 439.8,240.8 427.8,243.5" fill="#0000bd" opacity="0.8" filter="url(#b0_8)"/>
<polygon points="439.8,233.4 502.7,233.4 502.7,249.6 448.8,249.6" fill="#000094" opacity="0.8" filter="url(#b1_2)"/>
<polygon points="384.1,278.6 399.4,278.6 399.4,249.6 384.1,249.6" fill="#c70000"/>
<polygon points="386.8,275.4 397,275.4 397,252.5 386.8,252.5" fill="#800000" filter="url(#b0_7)"/>
<polygon points="399.4,278.6 408.6,278.6 408.6,249.6 399.4,249.6" fill="url(#lg29)"/>
<polygon points="408.6,278.6 419.7,278.6 419.7,249.6 408.6,249.6" fill="url(#lg30)"/>
<polygon points="419.7,278.6 451.8,278.6 451.8,249.6 419.7,249.6" fill="url(#lg31)"/>
<polygon points="384.1,233.4 401.7,233.4 401.7,217.1 384.1,217.1" fill="url(#lg32)"/>
<polygon points="401.7,233.4 414.3,233.4 414.3,217.1 401.7,217.1" fill="#002eff"/>
<polygon points="402.6,217.9 407.7,217.9 414,232.8 408.6,232.8" fill="#00bdff" opacity="0.9" filter="url(#b0_7)"/>
<polygon points="414.3,233.4 430.8,233.4 423.3,225.4 414.3,222.2" fill="#002eff" opacity="0.8" filter="url(#b0_7)"/>
<polygon points="384.1,217.1 401.7,217.1 401.7,201.2 384.1,201.2" fill="#004dff"/>
<polygon points="384.1,210.5 393.4,210.5 393.4,201.2 384.1,201.2" fill="#0080ff" opacity="0.8" filter="url(#b0_9)"/>
<polygon points="401.7,217.1 411.3,217.1 406.2,201.2 401.7,201.2" fill="#0000fa" opacity="0.9" filter="url(#b0_6)"/>
</g>
<path d="M382.6 184.7L503.3 184.7M382.6 201.2L503.3 201.2M382.6 217.1L503.3 217.1M382.6 233.4L503.3 233.4M382.6 249.6L503.3 249.6" fill="none" stroke="#1a2cff" stroke-width="1.15"/>
<path d="M399.4 153L399.4 184.7M408.6 153L408.6 184.7M419.7 153L419.7 184.7M430.8 153L430.8 184.7M441.6 153L441.6 184.7M451.8 153L451.8 184.7M462.5 153L462.5 184.7M477.5 153L477.5 184.7M487.7 153L487.7 184.7" fill="none" stroke="#1a2cff" stroke-width="1.15"/>
<path d="M399.4 249.6L399.4 281.2M408.6 249.6L408.6 281.2M419.7 249.6L419.7 281.2M430.8 249.6L430.8 281.2M441.6 249.6L441.6 281.2M451.8 249.6L451.8 281.2M462.5 249.6L462.5 281.2M477.5 249.6L477.5 281.2M487.7 249.6L487.7 281.2" fill="none" stroke="#1a2cff" stroke-width="1.15"/>
<path d="M401.7 201.2L401.7 233.4M414.3 201.2L414.3 233.4M426.3 201.2L426.3 233.4M438.3 201.2L438.3 233.4M450.3 201.2L450.3 233.4M456.6 201.2L456.6 233.4M461 201.2L461 233.4M468.2 201.2L468.2 233.4M474.5 201.2L474.5 233.4M487.7 201.2L487.7 233.4" fill="none" stroke="#1a2cff" stroke-width="1.15"/>
<path d="M414.3 202.8L461 202.8M468.2 202.8L502.7 202.8" fill="none" stroke="#1a2cff" stroke-width="0.9199999999999999"/>
<path d="M17.3 8.9V118.2" fill="none" stroke="#4a4a4a" stroke-width="0.45"/>
<path d="M17.3 118.2H139.5" fill="none" stroke="#4a4a4a" stroke-width="0.45"/>
<line x1="17.3" x2="17.3" y1="118.2" y2="117.2" stroke="#4a4a4a" stroke-width="0.4"/>
<text x="17.3" y="125.3" font-size="4.0" text-anchor="middle" fill="#333">0</text>
<line x1="41.7" x2="41.7" y1="118.2" y2="117.2" stroke="#4a4a4a" stroke-width="0.4"/>
<text x="41.7" y="125.3" font-size="4.0" text-anchor="middle" fill="#333">10</text>
<line x1="66.2" x2="66.2" y1="118.2" y2="117.2" stroke="#4a4a4a" stroke-width="0.4"/>
<text x="66.2" y="125.3" font-size="4.0" text-anchor="middle" fill="#333">20</text>
<line x1="90.6" x2="90.6" y1="118.2" y2="117.2" stroke="#4a4a4a" stroke-width="0.4"/>
<text x="90.6" y="125.3" font-size="4.0" text-anchor="middle" fill="#333">30</text>
<line x1="115.1" x2="115.1" y1="118.2" y2="117.2" stroke="#4a4a4a" stroke-width="0.4"/>
<text x="115.1" y="125.3" font-size="4.0" text-anchor="middle" fill="#333">40</text>
<line x1="139.5" x2="139.5" y1="118.2" y2="117.2" stroke="#4a4a4a" stroke-width="0.4"/>
<text x="139.5" y="125.3" font-size="4.0" text-anchor="middle" fill="#333">50</text>
<line x1="17.3" x2="18.3" y1="118.2" y2="118.2" stroke="#4a4a4a" stroke-width="0.4"/>
<text x="14.7" y="119.6" font-size="4.0" text-anchor="end" fill="#333">0</text>
<line x1="17.3" x2="18.3" y1="100" y2="100" stroke="#4a4a4a" stroke-width="0.4"/>
<text x="14.7" y="101.4" font-size="4.0" text-anchor="end" fill="#333">5</text>
<line x1="17.3" x2="18.3" y1="81.8" y2="81.8" stroke="#4a4a4a" stroke-width="0.4"/>
<text x="14.7" y="83.2" font-size="4.0" text-anchor="end" fill="#333">10</text>
<line x1="17.3" x2="18.3" y1="63.6" y2="63.6" stroke="#4a4a4a" stroke-width="0.4"/>
<text x="14.7" y="65" font-size="4.0" text-anchor="end" fill="#333">15</text>
<line x1="17.3" x2="18.3" y1="45.3" y2="45.3" stroke="#4a4a4a" stroke-width="0.4"/>
<text x="14.7" y="46.8" font-size="4.0" text-anchor="end" fill="#333">20</text>
<line x1="17.3" x2="18.3" y1="27.1" y2="27.1" stroke="#4a4a4a" stroke-width="0.4"/>
<text x="14.7" y="28.6" font-size="4.0" text-anchor="end" fill="#333">25</text>
<line x1="17.3" x2="18.3" y1="8.9" y2="8.9" stroke="#4a4a4a" stroke-width="0.4"/>
<text x="14.7" y="10.4" font-size="4.0" text-anchor="end" fill="#333">30</text>
<text x="78.3" y="6.9" font-size="4.65" font-weight="bold" text-anchor="middle" fill="#111">WHIPP estimation (iGent)</text>
<text x="78.8" y="131" font-size="4.3" text-anchor="middle" fill="#333">Distance [m]</text>
<text transform="translate(7.8 63.6) rotate(-90)" font-size="4.3" text-anchor="middle" fill="#333">Distance [m]</text>
<rect x="146.1" y="8.2" width="7" height="110.2" fill="url(#cb33)" stroke="#555" stroke-width="0.2"/>
<text x="149.6" y="5" font-size="4.0" font-weight="bold" text-anchor="middle" fill="#1a1a1a">dBm</text>
<text x="154.8" y="9.6" font-size="3.9" fill="#333">-30</text>
<text x="154.8" y="20.6" font-size="3.9" fill="#333">-35</text>
<text x="154.8" y="31.6" font-size="3.9" fill="#333">-40</text>
<text x="154.8" y="42.7" font-size="3.9" fill="#333">-45</text>
<text x="154.8" y="53.7" font-size="3.9" fill="#333">-50</text>
<text x="154.8" y="64.7" font-size="3.9" fill="#333">-55</text>
<text x="154.8" y="75.7" font-size="3.9" fill="#333">-60</text>
<text x="154.8" y="86.7" font-size="3.9" fill="#333">-65</text>
<text x="154.8" y="97.8" font-size="3.9" fill="#333">-70</text>
<text x="154.8" y="108.8" font-size="3.9" fill="#333">-75</text>
<text x="154.8" y="119.8" font-size="3.9" fill="#333">-80</text>
<path d="M194.6 8.3V120.3" fill="none" stroke="#4a4a4a" stroke-width="0.45"/>
<path d="M194.6 120.3H320.2" fill="none" stroke="#aaa" stroke-width="0.45"/>
<line x1="194.6" x2="194.6" y1="120.3" y2="119.3" stroke="#4a4a4a" stroke-width="0.4"/>
<text x="194.6" y="127.4" font-size="4.0" text-anchor="middle" fill="#333">0</text>
<line x1="210.3" x2="210.3" y1="120.3" y2="119.3" stroke="#4a4a4a" stroke-width="0.4"/>
<text x="210.3" y="127.4" font-size="4.0" text-anchor="middle" fill="#333">5</text>
<line x1="226" x2="226" y1="120.3" y2="119.3" stroke="#4a4a4a" stroke-width="0.4"/>
<text x="226" y="127.4" font-size="4.0" text-anchor="middle" fill="#333">10</text>
<line x1="241.7" x2="241.7" y1="120.3" y2="119.3" stroke="#4a4a4a" stroke-width="0.4"/>
<text x="241.7" y="127.4" font-size="4.0" text-anchor="middle" fill="#333">15</text>
<line x1="257.4" x2="257.4" y1="120.3" y2="119.3" stroke="#4a4a4a" stroke-width="0.4"/>
<text x="257.4" y="127.4" font-size="4.0" text-anchor="middle" fill="#333">20</text>
<line x1="273.1" x2="273.1" y1="120.3" y2="119.3" stroke="#4a4a4a" stroke-width="0.4"/>
<text x="273.1" y="127.4" font-size="4.0" text-anchor="middle" fill="#333">25</text>
<line x1="288.8" x2="288.8" y1="120.3" y2="119.3" stroke="#4a4a4a" stroke-width="0.4"/>
<text x="288.8" y="127.4" font-size="4.0" text-anchor="middle" fill="#333">30</text>
<line x1="304.5" x2="304.5" y1="120.3" y2="119.3" stroke="#4a4a4a" stroke-width="0.4"/>
<text x="304.5" y="127.4" font-size="4.0" text-anchor="middle" fill="#333">35</text>
<line x1="320.2" x2="320.2" y1="120.3" y2="119.3" stroke="#4a4a4a" stroke-width="0.4"/>
<text x="320.2" y="127.4" font-size="4.0" text-anchor="middle" fill="#333">40</text>
<line x1="194.6" x2="195.6" y1="120.3" y2="120.3" stroke="#4a4a4a" stroke-width="0.4"/>
<text x="192" y="121.7" font-size="4.0" text-anchor="end" fill="#333">0</text>
<line x1="194.6" x2="195.6" y1="106.3" y2="106.3" stroke="#4a4a4a" stroke-width="0.4"/>
<text x="192" y="107.7" font-size="4.0" text-anchor="end" fill="#333">5</text>
<line x1="194.6" x2="195.6" y1="92.3" y2="92.3" stroke="#4a4a4a" stroke-width="0.4"/>
<text x="192" y="93.7" font-size="4.0" text-anchor="end" fill="#333">10</text>
<line x1="194.6" x2="195.6" y1="78.3" y2="78.3" stroke="#4a4a4a" stroke-width="0.4"/>
<text x="192" y="79.7" font-size="4.0" text-anchor="end" fill="#333">15</text>
<line x1="194.6" x2="195.6" y1="64.3" y2="64.3" stroke="#4a4a4a" stroke-width="0.4"/>
<text x="192" y="65.7" font-size="4.0" text-anchor="end" fill="#333">20</text>
<line x1="194.6" x2="195.6" y1="50.3" y2="50.3" stroke="#4a4a4a" stroke-width="0.4"/>
<text x="192" y="51.7" font-size="4.0" text-anchor="end" fill="#333">25</text>
<line x1="194.6" x2="195.6" y1="36.3" y2="36.3" stroke="#4a4a4a" stroke-width="0.4"/>
<text x="192" y="37.7" font-size="4.0" text-anchor="end" fill="#333">30</text>
<line x1="194.6" x2="195.6" y1="22.3" y2="22.3" stroke="#4a4a4a" stroke-width="0.4"/>
<text x="192" y="23.7" font-size="4.0" text-anchor="end" fill="#333">35</text>
<line x1="194.6" x2="195.6" y1="8.3" y2="8.3" stroke="#4a4a4a" stroke-width="0.4"/>
<text x="192" y="9.7" font-size="4.0" text-anchor="end" fill="#333">40</text>
<text x="257" y="5.6" font-size="4.8" font-weight="bold" text-anchor="middle" fill="#111">WHIPP estimation (Vooruit)</text>
<text x="256.2" y="131.6" font-size="4.4" text-anchor="middle" fill="#333">Distance [m]</text>
<text transform="translate(185.5 64.3) rotate(-90)" font-size="4.4" text-anchor="middle" fill="#333">Distance [m]</text>
<rect x="326.1" y="7.9" width="7.4" height="112" fill="url(#cb34)" stroke="#555" stroke-width="0.2"/>
<text x="329.8" y="5.6" font-size="4.0" font-weight="bold" text-anchor="middle" fill="#1a1a1a">dBm</text>
<text x="335.5" y="9.3" font-size="3.9" fill="#333">-30</text>
<text x="335.5" y="20.5" font-size="3.9" fill="#333">-35</text>
<text x="335.5" y="31.7" font-size="3.9" fill="#333">-40</text>
<text x="335.5" y="42.9" font-size="3.9" fill="#333">-45</text>
<text x="335.5" y="54.1" font-size="3.9" fill="#333">-50</text>
<text x="335.5" y="65.3" font-size="3.9" fill="#333">-55</text>
<text x="335.5" y="76.5" font-size="3.9" fill="#333">-60</text>
<text x="335.5" y="87.7" font-size="3.9" fill="#333">-65</text>
<text x="335.5" y="98.9" font-size="3.9" fill="#333">-70</text>
<text x="335.5" y="110.1" font-size="3.9" fill="#333">-75</text>
<text x="335.5" y="121.3" font-size="3.9" fill="#333">-80</text>
<path d="M383.5 9.2V118.3" fill="none" stroke="#4a4a4a" stroke-width="0.45"/>
<path d="M383.5 118.3H506.3" fill="none" stroke="#4a4a4a" stroke-width="0.45"/>
<line x1="383.5" x2="383.5" y1="118.3" y2="117.3" stroke="#4a4a4a" stroke-width="0.4"/>
<text x="383.5" y="125.4" font-size="4.0" text-anchor="middle" fill="#333">10</text>
<line x1="408.1" x2="408.1" y1="118.3" y2="117.3" stroke="#4a4a4a" stroke-width="0.4"/>
<text x="408.1" y="125.4" font-size="4.0" text-anchor="middle" fill="#333">20</text>
<line x1="432.6" x2="432.6" y1="118.3" y2="117.3" stroke="#4a4a4a" stroke-width="0.4"/>
<text x="432.6" y="125.4" font-size="4.0" text-anchor="middle" fill="#333">30</text>
<line x1="457.2" x2="457.2" y1="118.3" y2="117.3" stroke="#4a4a4a" stroke-width="0.4"/>
<text x="457.2" y="125.4" font-size="4.0" text-anchor="middle" fill="#333">40</text>
<line x1="481.7" x2="481.7" y1="118.3" y2="117.3" stroke="#4a4a4a" stroke-width="0.4"/>
<text x="481.7" y="125.4" font-size="4.0" text-anchor="middle" fill="#333">50</text>
<line x1="506.3" x2="506.3" y1="118.3" y2="117.3" stroke="#4a4a4a" stroke-width="0.4"/>
<text x="506.3" y="125.4" font-size="4.0" text-anchor="middle" fill="#333">60</text>
<line x1="383.5" x2="384.5" y1="118.3" y2="118.3" stroke="#4a4a4a" stroke-width="0.4"/>
<text x="380.9" y="119.7" font-size="4.0" text-anchor="end" fill="#333">5</text>
<line x1="383.5" x2="384.5" y1="96.5" y2="96.5" stroke="#4a4a4a" stroke-width="0.4"/>
<text x="380.9" y="97.9" font-size="4.0" text-anchor="end" fill="#333">10</text>
<line x1="383.5" x2="384.5" y1="74.6" y2="74.6" stroke="#4a4a4a" stroke-width="0.4"/>
<text x="380.9" y="76.1" font-size="4.0" text-anchor="end" fill="#333">15</text>
<line x1="383.5" x2="384.5" y1="52.8" y2="52.8" stroke="#4a4a4a" stroke-width="0.4"/>
<text x="380.9" y="54.3" font-size="4.0" text-anchor="end" fill="#333">20</text>
<line x1="383.5" x2="384.5" y1="31" y2="31" stroke="#4a4a4a" stroke-width="0.4"/>
<text x="380.9" y="32.4" font-size="4.0" text-anchor="end" fill="#333">25</text>
<line x1="383.5" x2="384.5" y1="9.2" y2="9.2" stroke="#4a4a4a" stroke-width="0.4"/>
<text x="380.9" y="10.6" font-size="4.0" text-anchor="end" fill="#333">30</text>
<text x="444.7" y="6.1" font-size="4.7" font-weight="bold" text-anchor="middle" fill="#111">WHIPP estimation (Koutitas)</text>
<text x="444.6" y="130.6" font-size="4.3" text-anchor="middle" fill="#333">Distance [m]</text>
<text transform="translate(374.2 63.7) rotate(-90)" font-size="4.3" text-anchor="middle" fill="#333">Distance [m]</text>
<rect x="512.3" y="8.1" width="7.2" height="110" fill="url(#cb35)" stroke="#555" stroke-width="0.2"/>
<text x="515.9" y="4.8" font-size="4.0" font-weight="bold" text-anchor="middle" fill="#1a1a1a">dBm</text>
<text x="521.6" y="9.5" font-size="3.9" fill="#333">-30</text>
<text x="521.6" y="20.5" font-size="3.9" fill="#333">-35</text>
<text x="521.6" y="31.5" font-size="3.9" fill="#333">-40</text>
<text x="521.6" y="42.5" font-size="3.9" fill="#333">-45</text>
<text x="521.6" y="53.5" font-size="3.9" fill="#333">-50</text>
<text x="521.6" y="64.5" font-size="3.9" fill="#333">-55</text>
<text x="521.6" y="75.5" font-size="3.9" fill="#333">-60</text>
<text x="521.6" y="86.5" font-size="3.9" fill="#333">-65</text>
<text x="521.6" y="97.5" font-size="3.9" fill="#333">-70</text>
<text x="521.6" y="108.5" font-size="3.9" fill="#333">-75</text>
<text x="521.6" y="119.5" font-size="3.9" fill="#333">-80</text>
<path d="M15.4 157V279.6" fill="none" stroke="#4a4a4a" stroke-width="0.45"/>
<path d="M15.4 279.6H146.4" fill="none" stroke="#4a4a4a" stroke-width="0.45"/>
<line x1="15.4" x2="15.4" y1="279.6" y2="278.6" stroke="#4a4a4a" stroke-width="0.4"/>
<text x="15.4" y="286.9" font-size="4.1" text-anchor="middle" fill="#333">0</text>
<line x1="41.6" x2="41.6" y1="279.6" y2="278.6" stroke="#4a4a4a" stroke-width="0.4"/>
<text x="41.6" y="286.9" font-size="4.1" text-anchor="middle" fill="#333">10</text>
<line x1="67.8" x2="67.8" y1="279.6" y2="278.6" stroke="#4a4a4a" stroke-width="0.4"/>
<text x="67.8" y="286.9" font-size="4.1" text-anchor="middle" fill="#333">20</text>
<line x1="94" x2="94" y1="279.6" y2="278.6" stroke="#4a4a4a" stroke-width="0.4"/>
<text x="94" y="286.9" font-size="4.1" text-anchor="middle" fill="#333">30</text>
<line x1="120.2" x2="120.2" y1="279.6" y2="278.6" stroke="#4a4a4a" stroke-width="0.4"/>
<text x="120.2" y="286.9" font-size="4.1" text-anchor="middle" fill="#333">40</text>
<line x1="146.4" x2="146.4" y1="279.6" y2="278.6" stroke="#4a4a4a" stroke-width="0.4"/>
<text x="146.4" y="286.9" font-size="4.1" text-anchor="middle" fill="#333">50</text>
<line x1="15.4" x2="16.4" y1="279.6" y2="279.6" stroke="#4a4a4a" stroke-width="0.4"/>
<text x="12.7" y="281.1" font-size="4.1" text-anchor="end" fill="#333">0</text>
<line x1="15.4" x2="16.4" y1="259.2" y2="259.2" stroke="#4a4a4a" stroke-width="0.4"/>
<text x="12.7" y="260.6" font-size="4.1" text-anchor="end" fill="#333">5</text>
<line x1="15.4" x2="16.4" y1="238.7" y2="238.7" stroke="#4a4a4a" stroke-width="0.4"/>
<text x="12.7" y="240.2" font-size="4.1" text-anchor="end" fill="#333">10</text>
<line x1="15.4" x2="16.4" y1="218.3" y2="218.3" stroke="#4a4a4a" stroke-width="0.4"/>
<text x="12.7" y="219.8" font-size="4.1" text-anchor="end" fill="#333">15</text>
<line x1="15.4" x2="16.4" y1="197.9" y2="197.9" stroke="#4a4a4a" stroke-width="0.4"/>
<text x="12.7" y="199.3" font-size="4.1" text-anchor="end" fill="#333">20</text>
<line x1="15.4" x2="16.4" y1="177.4" y2="177.4" stroke="#4a4a4a" stroke-width="0.4"/>
<text x="12.7" y="178.9" font-size="4.1" text-anchor="end" fill="#333">25</text>
<line x1="15.4" x2="16.4" y1="157" y2="157" stroke="#4a4a4a" stroke-width="0.4"/>
<text x="12.7" y="158.5" font-size="4.1" text-anchor="end" fill="#333">30</text>
<text x="80.5" y="154.3" font-size="4.95" font-weight="bold" text-anchor="middle" fill="#111">ML estimation (iGent)</text>
<text x="81.1" y="293" font-size="5.0" text-anchor="middle" fill="#333">Distance [m]</text>
<text transform="translate(4.9 218.3) rotate(-90)" font-size="5.0" text-anchor="middle" fill="#333">Distance [m]</text>
<rect x="153.1" y="156.7" width="7" height="123" fill="url(#cb36)" stroke="#555" stroke-width="0.2"/>
<text x="156.6" y="153.4" font-size="4.3" font-weight="bold" text-anchor="middle" fill="#1a1a1a">dBm</text>
<text x="162.4" y="158.2" font-size="4.1" fill="#333">-30</text>
<text x="162.4" y="170.5" font-size="4.1" fill="#333">-35</text>
<text x="162.4" y="182.8" font-size="4.1" fill="#333">-40</text>
<text x="162.4" y="195.1" font-size="4.1" fill="#333">-45</text>
<text x="162.4" y="207.4" font-size="4.1" fill="#333">-50</text>
<text x="162.4" y="219.7" font-size="4.1" fill="#333">-55</text>
<text x="162.4" y="232" font-size="4.1" fill="#333">-60</text>
<text x="162.4" y="244.3" font-size="4.1" fill="#333">-65</text>
<text x="162.4" y="256.6" font-size="4.1" fill="#333">-70</text>
<text x="162.4" y="268.9" font-size="4.1" fill="#333">-75</text>
<text x="162.4" y="281.2" font-size="4.1" fill="#333">-80</text>
<path d="M193.8 160.4V275.4" fill="none" stroke="#bbb" stroke-width="0.45"/>
<path d="M193.8 275.4H321.8" fill="none" stroke="#888" stroke-width="0.45"/>
<line x1="193.8" x2="193.8" y1="275.4" y2="274.4" stroke="#4a4a4a" stroke-width="0.4"/>
<text x="193.8" y="282.7" font-size="4.1" text-anchor="middle" fill="#333">0</text>
<line x1="209.8" x2="209.8" y1="275.4" y2="274.4" stroke="#4a4a4a" stroke-width="0.4"/>
<text x="209.8" y="282.7" font-size="4.1" text-anchor="middle" fill="#333">5</text>
<line x1="225.8" x2="225.8" y1="275.4" y2="274.4" stroke="#4a4a4a" stroke-width="0.4"/>
<text x="225.8" y="282.7" font-size="4.1" text-anchor="middle" fill="#333">10</text>
<line x1="241.8" x2="241.8" y1="275.4" y2="274.4" stroke="#4a4a4a" stroke-width="0.4"/>
<text x="241.8" y="282.7" font-size="4.1" text-anchor="middle" fill="#333">15</text>
<line x1="257.8" x2="257.8" y1="275.4" y2="274.4" stroke="#4a4a4a" stroke-width="0.4"/>
<text x="257.8" y="282.7" font-size="4.1" text-anchor="middle" fill="#333">20</text>
<line x1="273.8" x2="273.8" y1="275.4" y2="274.4" stroke="#4a4a4a" stroke-width="0.4"/>
<text x="273.8" y="282.7" font-size="4.1" text-anchor="middle" fill="#333">25</text>
<line x1="289.8" x2="289.8" y1="275.4" y2="274.4" stroke="#4a4a4a" stroke-width="0.4"/>
<text x="289.8" y="282.7" font-size="4.1" text-anchor="middle" fill="#333">30</text>
<line x1="305.8" x2="305.8" y1="275.4" y2="274.4" stroke="#4a4a4a" stroke-width="0.4"/>
<text x="305.8" y="282.7" font-size="4.1" text-anchor="middle" fill="#333">35</text>
<line x1="321.8" x2="321.8" y1="275.4" y2="274.4" stroke="#4a4a4a" stroke-width="0.4"/>
<text x="321.8" y="282.7" font-size="4.1" text-anchor="middle" fill="#333">40</text>
<line x1="193.8" x2="194.8" y1="275.4" y2="275.4" stroke="#4a4a4a" stroke-width="0.4"/>
<text x="191.1" y="276.9" font-size="4.1" text-anchor="end" fill="#333">0</text>
<line x1="193.8" x2="194.8" y1="261" y2="261" stroke="#4a4a4a" stroke-width="0.4"/>
<text x="191.1" y="262.5" font-size="4.1" text-anchor="end" fill="#333">5</text>
<line x1="193.8" x2="194.8" y1="246.6" y2="246.6" stroke="#4a4a4a" stroke-width="0.4"/>
<text x="191.1" y="248.1" font-size="4.1" text-anchor="end" fill="#333">10</text>
<line x1="193.8" x2="194.8" y1="232.3" y2="232.3" stroke="#4a4a4a" stroke-width="0.4"/>
<text x="191.1" y="233.8" font-size="4.1" text-anchor="end" fill="#333">15</text>
<line x1="193.8" x2="194.8" y1="217.9" y2="217.9" stroke="#4a4a4a" stroke-width="0.4"/>
<text x="191.1" y="219.4" font-size="4.1" text-anchor="end" fill="#333">20</text>
<line x1="193.8" x2="194.8" y1="203.5" y2="203.5" stroke="#4a4a4a" stroke-width="0.4"/>
<text x="191.1" y="205" font-size="4.1" text-anchor="end" fill="#333">25</text>
<line x1="193.8" x2="194.8" y1="189.1" y2="189.1" stroke="#4a4a4a" stroke-width="0.4"/>
<text x="191.1" y="190.6" font-size="4.1" text-anchor="end" fill="#333">30</text>
<line x1="193.8" x2="194.8" y1="174.8" y2="174.8" stroke="#4a4a4a" stroke-width="0.4"/>
<text x="191.1" y="176.3" font-size="4.1" text-anchor="end" fill="#333">35</text>
<line x1="193.8" x2="194.8" y1="160.4" y2="160.4" stroke="#4a4a4a" stroke-width="0.4"/>
<text x="191.1" y="161.9" font-size="4.1" text-anchor="end" fill="#333">40</text>
<text x="258.3" y="157.6" font-size="4.95" font-weight="bold" text-anchor="middle" fill="#111">ML estimation (Vooruit)</text>
<text x="257.9" y="288.4" font-size="4.9" text-anchor="middle" fill="#333">Distance [m]</text>
<text transform="translate(184.2 217.9) rotate(-90)" font-size="4.9" text-anchor="middle" fill="#333">Distance [m]</text>
<rect x="328.1" y="160.5" width="8.2" height="115" fill="url(#cb37)" stroke="#555" stroke-width="0.2"/>
<text x="332.2" y="158.5" font-size="4.3" font-weight="bold" text-anchor="middle" fill="#1a1a1a">dBm</text>
<text x="338" y="162" font-size="4.1" fill="#333">-30</text>
<text x="338" y="173.5" font-size="4.1" fill="#333">-35</text>
<text x="338" y="185" font-size="4.1" fill="#333">-40</text>
<text x="338" y="196.5" font-size="4.1" fill="#333">-45</text>
<text x="338" y="208" font-size="4.1" fill="#333">-50</text>
<text x="338" y="219.5" font-size="4.1" fill="#333">-55</text>
<text x="338" y="231" font-size="4.1" fill="#333">-60</text>
<text x="338" y="242.5" font-size="4.1" fill="#333">-65</text>
<text x="338" y="254" font-size="4.1" fill="#333">-70</text>
<text x="338" y="265.5" font-size="4.1" fill="#333">-75</text>
<text x="338" y="277" font-size="4.1" fill="#333">-80</text>
<path d="M370.9 150.9V283.9" fill="none" stroke="#4a4a4a" stroke-width="0.45"/>
<path d="M370.9 283.9H520.6" fill="none" stroke="#4a4a4a" stroke-width="0.45"/>
<line x1="370.9" x2="370.9" y1="283.9" y2="282.9" stroke="#4a4a4a" stroke-width="0.4"/>
<text x="370.9" y="293" font-size="5.1" text-anchor="middle" fill="#333">10</text>
<line x1="400.8" x2="400.8" y1="283.9" y2="282.9" stroke="#4a4a4a" stroke-width="0.4"/>
<text x="400.8" y="293" font-size="5.1" text-anchor="middle" fill="#333">20</text>
<line x1="430.8" x2="430.8" y1="283.9" y2="282.9" stroke="#4a4a4a" stroke-width="0.4"/>
<text x="430.8" y="293" font-size="5.1" text-anchor="middle" fill="#333">30</text>
<line x1="460.8" x2="460.8" y1="283.9" y2="282.9" stroke="#4a4a4a" stroke-width="0.4"/>
<text x="460.8" y="293" font-size="5.1" text-anchor="middle" fill="#333">40</text>
<line x1="490.7" x2="490.7" y1="283.9" y2="282.9" stroke="#4a4a4a" stroke-width="0.4"/>
<text x="490.7" y="293" font-size="5.1" text-anchor="middle" fill="#333">50</text>
<line x1="520.6" x2="520.6" y1="283.9" y2="282.9" stroke="#4a4a4a" stroke-width="0.4"/>
<text x="520.6" y="293" font-size="5.1" text-anchor="middle" fill="#333">60</text>
<line x1="370.9" x2="371.9" y1="283.9" y2="283.9" stroke="#4a4a4a" stroke-width="0.4"/>
<text x="367.6" y="285.7" font-size="5.1" text-anchor="end" fill="#333">5</text>
<line x1="370.9" x2="371.9" y1="257.3" y2="257.3" stroke="#4a4a4a" stroke-width="0.4"/>
<text x="367.6" y="259.1" font-size="5.1" text-anchor="end" fill="#333">10</text>
<line x1="370.9" x2="371.9" y1="230.7" y2="230.7" stroke="#4a4a4a" stroke-width="0.4"/>
<text x="367.6" y="232.5" font-size="5.1" text-anchor="end" fill="#333">15</text>
<line x1="370.9" x2="371.9" y1="204.1" y2="204.1" stroke="#4a4a4a" stroke-width="0.4"/>
<text x="367.6" y="205.9" font-size="5.1" text-anchor="end" fill="#333">20</text>
<line x1="370.9" x2="371.9" y1="177.5" y2="177.5" stroke="#4a4a4a" stroke-width="0.4"/>
<text x="367.6" y="179.3" font-size="5.1" text-anchor="end" fill="#333">25</text>
<line x1="370.9" x2="371.9" y1="150.9" y2="150.9" stroke="#4a4a4a" stroke-width="0.4"/>
<text x="367.6" y="152.7" font-size="5.1" text-anchor="end" fill="#333">30</text>
<text x="446.4" y="148.3" font-size="5.67" font-weight="bold" text-anchor="middle" fill="#111">ML estimation (Koutitas)</text>
<text x="446.4" y="299.6" font-size="5.6" text-anchor="middle" fill="#333">Distance [m]</text>
<text transform="translate(359 217.4) rotate(-90)" font-size="5.6" text-anchor="middle" fill="#333">Distance [m]</text>
<rect x="527.9" y="150.9" width="8.6" height="133" fill="url(#cb38)" stroke="#555" stroke-width="0.2"/>
<text x="532.2" y="148.7" font-size="5.0" font-weight="bold" text-anchor="middle" fill="#1a1a1a">dBm</text>
<text x="539" y="152.6" font-size="4.8" fill="#333">-30</text>
<text x="539" y="165.9" font-size="4.8" fill="#333">-35</text>
<text x="539" y="179.2" font-size="4.8" fill="#333">-40</text>
<text x="539" y="192.5" font-size="4.8" fill="#333">-45</text>
<text x="539" y="205.8" font-size="4.8" fill="#333">-50</text>
<text x="539" y="219.1" font-size="4.8" fill="#333">-55</text>
<text x="539" y="232.4" font-size="4.8" fill="#333">-60</text>
<text x="539" y="245.7" font-size="4.8" fill="#333">-65</text>
<text x="539" y="259" font-size="4.8" fill="#333">-70</text>
<text x="539" y="272.3" font-size="4.8" fill="#333">-75</text>
<text x="539" y="285.6" font-size="4.8" fill="#333">-80</text>
<text x="83.5" y="330.3" font-size="10.4" text-anchor="middle" style="font-family:'Liberation Serif',serif" fill="#111">(<tspan font-weight="bold">a</tspan>)</text>
<text x="260.5" y="316.1" font-size="10.4" text-anchor="middle" style="font-family:'Liberation Serif',serif" fill="#111">(<tspan font-weight="bold">b.1</tspan>)</text>
<text x="361.4" y="330.3" font-size="10.4" text-anchor="middle" style="font-family:'Liberation Serif',serif" fill="#111">(<tspan font-weight="bold">b</tspan>)</text>
<text x="449" y="316.3" font-size="10.4" text-anchor="middle" style="font-family:'Liberation Serif',serif" fill="#111">(<tspan font-weight="bold">b.2</tspan>)</text>
</svg>
</body></html>
